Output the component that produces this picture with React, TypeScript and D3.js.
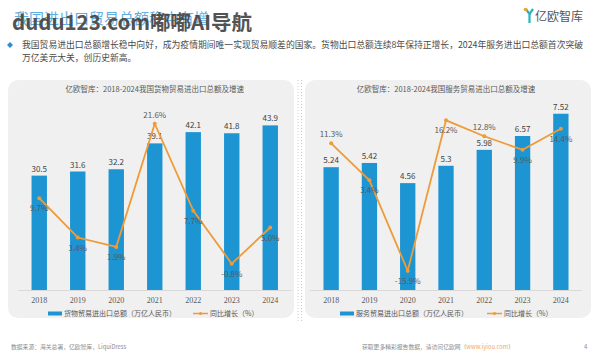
import React from "react";
import * as d3 from "d3";

const years = ["2018", "2019", "2020", "2021", "2022", "2023", "2024"];
const goodsTotal = [30.5, 31.6, 32.2, 39.1, 42.1, 41.8, 43.9];
const goodsGrowth = [9.7, 3.4, 1.9, 21.6, 7.7, -0.8, 5.0];
const serviceTotal = [5.24, 5.42, 4.56, 5.3, 5.98, 6.57, 7.52];
const serviceGrowth = [11.3, 3.4, -15.9, 16.2, 12.8, 9.9, 14.4];
const goodsLabelPos = ["below", "below", "below", "above", "below", "below", "below"];
const serviceLabelPos = ["above", "below", "below", "below", "above", "below", "below"];

const BLUE = "#1d95d3";
const ORANGE = "#ee9b3a";
const CJK = "'Noto Sans CJK SC', 'Noto Sans', sans-serif";
const SERIF = "'Liberation Serif', 'DejaVu Serif', serif";

type PanelProps = {
  x0: number;
  x1: number;
  title: string;
  totals: number[];
  growth: number[];
  barMax: number;
  lineDomain: [number, number];
  labelPos: string[];
  legendBar: string;
  legendBarX: number;
  legendLineX: number;
};

function Panel(p: PanelProps) {
  const top = 102.5;
  const base = 290;
  const x = d3.scaleBand<string>().domain(years).range([p.x0, p.x1]).padding(0);
  const yb = d3.scaleLinear().domain([0, p.barMax]).range([base, top]);
  const yl = d3.scaleLinear().domain(p.lineDomain).range([base, top]);
  const bw = x.bandwidth() * 0.4;
  const cx = (y: string) => (x(y) as number) + x.bandwidth() / 2;
  const line = d3
    .line<number>()
    .x((_, i) => cx(years[i]))
    .y((d) => yl(d));
  const mid = (p.x0 + p.x1) / 2;
  return (
    <g>
      <text x={mid} y={92} textAnchor="middle" fontSize={7.5} fill="#595959" fontFamily={CJK}>
        {p.title}
      </text>
      <line x1={p.x0 - 2} x2={p.x1 + 2} y1={base + 0.5} y2={base + 0.5} stroke="#d9d9d9" strokeWidth={1} />
      {p.totals.map((v, i) => (
        <rect key={"b" + i} x={cx(years[i]) - bw / 2} y={yb(v)} width={bw} height={base - yb(v)} fill={BLUE} />
      ))}
      {p.totals.map((v, i) => (
        <text key={"bl" + i} x={cx(years[i])} y={yb(v) - 4} textAnchor="middle" fontSize={8} fill="#404040" fontFamily={CJK}>
          {String(v)}
        </text>
      ))}
      <path d={line(p.growth) || ""} fill="none" stroke={ORANGE} strokeWidth={1.8} />
      {p.growth.map((v, i) => (
        <circle key={"c" + i} cx={cx(years[i])} cy={yl(v)} r={2} fill={ORANGE} />
      ))}
      {p.growth.map((v, i) => (
        <text
          key={"gl" + i}
          x={cx(years[i])}
          y={p.labelPos[i] === "above" ? yl(v) - 6 : yl(v) + 13}
          textAnchor="middle"
          fontSize={8}
          fill="#595959"
          fontFamily={CJK}
        >
          {v.toFixed(1) + "%"}
        </text>
      ))}
      {years.map((y) => (
        <text key={"y" + y} x={cx(y)} y={303} textAnchor="middle" fontSize={8} fill="#595959" fontFamily={SERIF}>
          {y}
        </text>
      ))}
      <rect x={p.legendBarX} y={311.5} width={14} height={4} fill={BLUE} />
      <text x={p.legendBarX + 16} y={316} fontSize={7} fill="#595959" fontFamily={CJK}>
        {p.legendBar}
      </text>
      <line x1={p.legendLineX} x2={p.legendLineX + 15} y1={313.5} y2={313.5} stroke={ORANGE} strokeWidth={1.5} />
      <circle cx={p.legendLineX + 7.5} cy={313.5} r={1.6} fill={ORANGE} />
      <text x={p.legendLineX + 17} y={316} fontSize={7} fill="#595959" fontFamily={CJK}>
        同比增长（%）
      </text>
    </g>
  );
}

export default function App() {
  return (
    <svg width={600} height={360} style={{ position: "absolute", left: 0, top: 0 }} fontFamily={CJK}>
      <rect width={600} height={360} fill="#ffffff" />
      {/* header */}
      <text x={14} y={24} fontSize={15} fill="#3a9ad9" fontFamily={CJK} opacity={0.8}>
        我国进出口贸易总额稳中有增
      </text>
      <text x={12} y={30} fontSize={20.5} fontWeight={600} fill="#454545" fontFamily={CJK} opacity={0.92}>
        dudu123.com嘟嘟AI导航
      </text>
      <path d="M10,42 L13,45 L10,48 L7,45 Z" fill="#2a8fd0" />
      <text x={22} y={48} fontSize={8.8} fill="#4a4a4a" fontFamily={CJK}>
        我国贸易进出口总额增长稳中向好，成为疫情期间唯一实现贸易顺差的国家。货物出口总额连续8年保持正增长，2024年服务进出口总额首次突破
      </text>
      <text x={22} y={61} fontSize={8.8} fill="#4a4a4a" fontFamily={CJK}>
        万亿美元大关，创历史新高。
      </text>
      {/* logo */}
      <path d="M526,9 L529.5,14 L529.5,23" fill="none" stroke="#2bb3c0" strokeWidth={2.2} />
      <path d="M533,9 L529.5,14" fill="none" stroke="#2bb3c0" strokeWidth={2.2} />
      <circle cx={525.5} cy={9.5} r={1.8} fill="#e8a23a" />
      <text x={535} y={21} fontSize={12} fill="#555" fontFamily={CJK}>
        亿欧智库
      </text>
      {/* panels */}
      <rect x={8} y={80} width={286} height={238} rx={10} fill="#f0f0f0" />
      <rect x={305} y={80} width={286} height={238} rx={10} fill="#f0f0f0" />
      <line x1={298} x2={298} y1={80} y2={322} stroke="#bdbdbd" strokeWidth={0.8} strokeDasharray="1,2" />
      <line x1={301.5} x2={301.5} y1={80} y2={322} stroke="#bdbdbd" strokeWidth={0.8} strokeDasharray="1,2" />
      <Panel
        x0={20}
        x1={289.5}
        title="亿欧智库：2018-2024我国货物贸易进出口总额及增速"
        totals={goodsTotal}
        growth={goodsGrowth}
        barMax={50}
        lineDomain={[-5, 25]}
        labelPos={goodsLabelPos}
        legendBar="货物贸易进出口总额（万亿人民币）"
        legendBarX={48}
        legendLineX={193}
      />
      <Panel
        x0={312}
        x1={580}
        title="亿欧智库：2018-2024我国服务贸易进出口总额及增速"
        totals={serviceTotal}
        growth={serviceGrowth}
        barMax={8}
        lineDomain={[-20, 20]}
        labelPos={serviceLabelPos}
        legendBar="服务贸易进出口总额（万亿人民币）"
        legendBarX={340}
        legendLineX={487}
      />
      {/* footer */}
      <text x={11} y={349} fontSize={5.8} fill="#8c8c8c" fontFamily={CJK}>
        数据来源：海关总署，亿欧智库，LiquiDress
      </text>
      <text x={362} y={349} fontSize={5.8} fill="#8c8c8c" fontFamily={CJK}>
        获取更多精彩报告数据，请访问亿欧网（
        <tspan fill="#f0a860">www.iyiou.com</tspan>）
      </text>
      <text x={584} y={349} fontSize={6} fill="#8c8c8c" fontFamily={CJK}>
        4
      </text>
    </svg>
  );
}
